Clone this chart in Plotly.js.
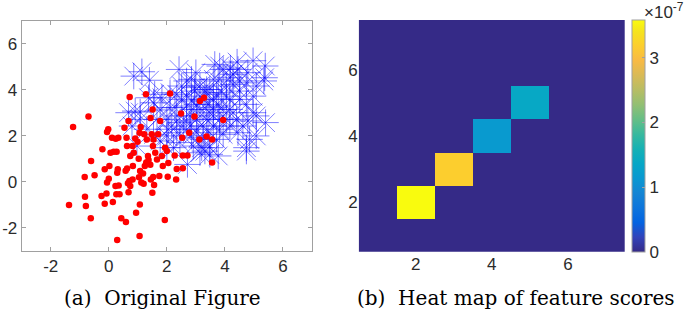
<!DOCTYPE html>
<html>
<head>
<meta charset="utf-8">
<script src="https://cdn.plot.ly/plotly-3.0.1.min.js"></script>
<style>html,body{margin:0;padding:0;background:#fff}#chart{width:685px;height:314px}</style>
</head>
<body>
<div id="chart"></div>
<script>
// ---- data: (a) original figure ----
const redX = [-1.37,-1.23,-0.70,-0.61,-0.83,-0.82,-0.79,-0.62,-0.49,-0.25,-0.14,-0.08,-0.22,-0.06,-0.02,0.02,-0.14,-0.06,0.00,0.06,0.17,0.27,0.11,0.24,0.33,0.29,0.31,0.14,0.23,0.34,0.26,0.37,0.29,0.43,0.59,0.54,0.61,0.58,0.63,0.71,0.66,0.68,0.74,0.72,0.68,0.63,0.74,0.83,0.86,0.91,0.82,0.82,0.94,1.07,1.06,1.10,1.06,0.99,1.03,1.08,1.04,1.12,1.20,1.18,1.24,1.29,1.28,1.22,1.31,1.35,1.37,1.43,1.50,1.45,1.53,1.56,1.48,1.54,1.52,1.44,1.51,1.60,1.66,1.70,1.74,1.77,1.86,1.83,1.94,1.93,2.00,2.03,2.05,2.11,2.32,2.34,2.27,2.55,2.55,2.71,2.49,2.53,2.77,2.95,3.12,3.37,3.56,3.56,3.14,3.94,3.28];
const redY = [-1.01,2.38,2.83,0.90,0.20,-0.65,-1.06,-1.59,0.28,-0.62,-0.96,-0.51,1.41,2.16,2.28,0.68,0.54,-0.04,0.13,1.26,1.30,1.30,1.91,1.87,1.91,0.39,0.54,-0.88,-0.19,-0.16,-0.55,-0.55,-2.54,-1.59,-1.75,2.35,1.91,0.48,0.57,0.03,-0.07,-0.46,-0.19,3.68,2.64,1.55,1.12,0.68,1.26,1.88,0.10,1.55,-1.35,-0.99,-2.36,2.38,2.13,1.74,1.00,0.46,0.19,-0.04,-0.09,0.36,0.68,0.83,3.80,2.06,1.84,1.12,0.94,0.74,-0.48,0.10,0.20,-0.14,2.06,1.84,1.55,2.77,3.14,1.26,0.97,2.06,0.25,2.64,0.68,1.12,1.48,-1.67,1.33,0.22,0.81,3.84,0.10,0.55,1.14,0.58,1.14,1.14,2.97,1.91,2.13,2.83,1.84,1.96,1.84,0.83,3.51,2.68,3.65];
const blueX = [1.14,0.86,1.40,0.68,0.91,1.08,0.80,0.97,1.37,1.58,1.54,1.77,1.83,2.00,2.11,2.28,2.42,2.51,2.68,2.85,3.00,2.95,3.14,3.31,3.48,3.65,3.82,3.94,4.19,4.28,4.42,4.45,4.97,5.39,5.37,5.34,4.74,5.08,4.51,4.28,4.05,3.88,4.17,4.51,4.74,4.97,5.08,5.40,4.79,4.62,4.45,5.08,4.85,4.74,4.74,4.05,4.17,3.77,3.60,3.48,3.25,3.14,3.03,2.80,2.68,2.51,2.34,2.17,2.05,2.34,2.57,2.80,3.03,3.25,3.42,3.60,3.82,3.82,3.37,3.60,3.71,3.48,3.20,2.91,2.71,2.45,2.23,2.00,2.00,1.77,1.54,1.66,1.31,1.08,3.48,3.31,3.77,3.14,2.85,3.08,3.25,4.28,4.40,4.17,3.94,2.68,2.85,3.03,3.42,3.60,3.94,3.37,3.71,4.05,2.97,2.34,2.11,2.45,2.68,2.91,3.77,3.60,4.17,4.51,4.97,4.79];
const blueY = [4.78,4.59,4.41,3.00,3.07,3.03,2.42,1.55,3.65,3.80,3.43,3.12,3.65,2.71,3.87,3.22,4.88,4.16,4.38,4.45,4.74,3.94,4.16,3.87,4.01,5.10,5.03,4.88,4.94,4.67,5.20,4.88,5.26,5.03,4.52,4.38,4.30,4.16,4.38,4.23,4.16,3.87,3.58,3.58,3.36,3.00,2.86,2.57,2.64,2.42,2.13,1.99,1.84,1.48,1.33,2.71,3.14,3.29,3.58,3.00,3.58,3.14,2.71,2.86,3.29,3.58,2.86,2.42,2.28,2.13,2.28,2.42,2.28,2.42,2.13,2.42,2.28,2.71,2.71,2.86,1.84,1.48,1.48,1.55,0.75,1.70,1.48,1.48,1.99,1.77,2.06,2.71,2.28,2.71,1.19,1.33,1.12,1.26,1.99,1.91,1.84,3.00,2.71,2.42,2.06,3.72,3.51,3.36,3.36,3.22,3.14,4.01,3.80,3.72,4.09,3.80,3.22,2.57,2.64,3.14,4.38,4.45,4.52,3.94,3.72,4.74];

// ---- data: (b) heat map of feature scores ----
const gridIdx = [1,2,3,4,5,6,7];
const cellX = [2,3,4,5];
const cellY = [2,3,4,5];
const cellZ = [3.59e-7,3.19e-7,1.17e-7,1.38e-7];
const cbTickVals = [0,1e-7,2e-7,3e-7];
const cbTickText = ['0','1','2','3'];
const axTicksA = [-2,0,2,4,6];
const axTickTextA = ['-2','0','2','4','6'];
const axTicksB = [2,4,6];

const heatZ = gridIdx.map(function(){return gridIdx.map(function(){return 0;});});
cellX.forEach(function(cx,i){ heatZ[cellY[i]-1][cx-1] = cellZ[i]; });

const parula = [
 [0,'rgb(53,42,135)'],[0.0635,'rgb(50,67,186)'],[0.127,'rgb(3,99,225)'],[0.19,'rgb(13,117,220)'],
 [0.254,'rgb(20,133,212)'],[0.317,'rgb(9,152,209)'],[0.381,'rgb(6,167,198)'],[0.444,'rgb(21,177,180)'],
 [0.508,'rgb(56,185,158)'],[0.571,'rgb(101,190,134)'],[0.635,'rgb(146,191,115)'],[0.698,'rgb(183,189,100)'],
 [0.762,'rgb(217,186,86)'],[0.825,'rgb(248,186,68)'],[0.889,'rgb(252,206,46)'],[0.952,'rgb(245,228,29)'],[1,'rgb(249,251,14)']
];

const tickFont = {family:'Liberation Sans, Arial, sans-serif', size:17, color:'#2b2b2b'};
const lineCol = '#a0a0a0';

const traces = [
 {type:'scatter', mode:'markers', x:blueX, y:blueY, xaxis:'x', yaxis:'y',
  marker:{symbol:'asterisk-open', size:22, color:'rgba(0,0,255,0.5)', line:{color:'rgba(0,0,255,0.5)', width:1}}, hoverinfo:'none'},
 {type:'scatter', mode:'markers', x:redX, y:redY, xaxis:'x', yaxis:'y',
  marker:{symbol:'circle', size:6.5, color:'#ff0000'}, hoverinfo:'none'},
 {type:'heatmap', x:gridIdx, y:gridIdx, z:heatZ, xaxis:'x2', yaxis:'y2', zmin:0, zmax:3.59e-7,
  colorscale:parula, hoverinfo:'none',
  colorbar:{x:631.7/685, xanchor:'left', xpad:0, ypad:0, y:(314-251.7)/314, yanchor:'bottom',
   len:231.7/314, lenmode:'fraction', thickness:13, thicknessmode:'pixels',
   outlinewidth:1, outlinecolor:lineCol, borderwidth:0,
   tickvals:cbTickVals, ticktext:cbTickText, ticks:'inside', ticklen:3, tickcolor:lineCol,
   tickfont:tickFont}}
];

const layout = {
 width:685, height:314, margin:{l:0,r:0,t:0,b:0}, showlegend:false,
 paper_bgcolor:'#ffffff', plot_bgcolor:'#ffffff',
 xaxis:{domain:[21.7/685,312/685], range:[-3,7], tickvals:axTicksA, ticktext:axTickTextA, ticks:'inside', ticklen:4, tickcolor:lineCol,
  showline:true, linecolor:lineCol, linewidth:1, mirror:'ticks', showgrid:false, zeroline:false, tickfont:tickFont, anchor:'y'},
 yaxis:{domain:[(314-250.7)/314,(314-20.7)/314], range:[-3,7], tickvals:axTicksA, ticktext:axTickTextA, ticks:'inside', ticklen:4, tickcolor:lineCol,
  showline:true, linecolor:lineCol, linewidth:1, mirror:'ticks', showgrid:false, zeroline:false, tickfont:tickFont, anchor:'x'},
 xaxis2:{domain:[358.7/685,625/685], range:[0.5,7.5], tickvals:axTicksB, ticks:'', showline:false, showgrid:false, zeroline:false, tickfont:tickFont, anchor:'y2'},
 yaxis2:{domain:[(314-251.7)/314,(314-20)/314], range:[0.5,7.5], tickvals:axTicksB, ticks:'', showline:false, showgrid:false, zeroline:false, tickfont:tickFont, anchor:'x2'},
 annotations:[
  {xref:'paper', yref:'paper', x:162/685, y:1-298/314, xanchor:'center', yanchor:'middle', showarrow:false,
   text:'(a)  Original Figure', font:{family:'DejaVu Serif, serif', size:20, color:'#000'}},
  {xref:'paper', yref:'paper', x:516/685, y:1-298/314, xanchor:'center', yanchor:'middle', showarrow:false,
   text:'(b)  Heat map of feature scores', font:{family:'DejaVu Serif, serif', size:20, color:'#000'}},
  {xref:'paper', yref:'paper', x:1, y:1-11/314, xanchor:'right', yanchor:'middle', showarrow:false, borderpad:0,
   text:'×10<sup>-7</sup>', font:{family:'Liberation Sans, Arial, sans-serif', size:17, color:'#2b2b2b'}}
 ]
};

Plotly.newPlot('chart', traces, layout, {staticPlot:true, displayModeBar:false});
</script>
</body>
</html>
